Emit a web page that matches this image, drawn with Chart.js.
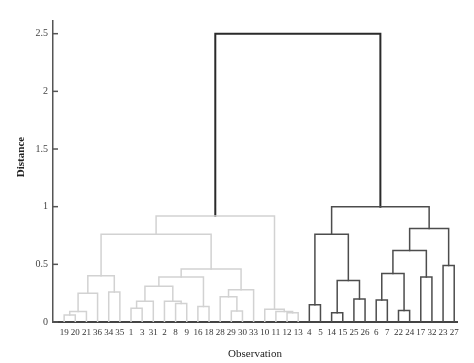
<!DOCTYPE html>
<html><head><meta charset="utf-8">
<script src="https://cdn.jsdelivr.net/npm/chart.js@4.4.1/dist/chart.umd.min.js"></script>
<style>html,body{margin:0;padding:0;background:#fff;}</style>
</head><body>
<canvas id="c" width="474" height="363"></canvas>
<script>
// Leaf order along the x axis (observation labels)
const leafLabels = ['19','20','21','36','34','35','1','3','31','2','8','9','16','18','28','29','30','33','10','11','12','13','4','5','14','15','25','26','6','7','22','24','17','32','23','27'];
// Merges: left child, right child (leaf label or 'mK' = merge K), distance
const mergeLeft  = ['19','m0','m1','34','m2','1','m5','8','2','m6','16','m9','29','28','m13','m11','m4','12','11','10','m16','4','14','25','m22','m21','6','22','m26','17','m28','23','m30','m25','m20'];
const mergeRight = ['20','21','36','35','m3','3','31','9','m7','m8','18','m10','30','m12','33','m14','m15','13','m17','m18','m19','5','15','26','m23','m24','7','24','m27','32','m29','27','m31','m32','m33'];
const mergeHeight = [0.06,0.09,0.25,0.26,0.40,0.12,0.18,0.16,0.18,0.31,0.135,0.39,0.095,0.22,0.28,0.46,0.76,0.08,0.09,0.11,0.92,0.15,0.08,0.20,0.36,0.76,0.19,0.10,0.42,0.39,0.62,0.49,0.81,1.00,2.50];
const mergeCluster = ['A','A','A','A','A','A','A','A','A','A','A','A','A','A','A','A','A','A','A','A','A','B','B','B','B','B','B','B','B','B','B','B','B','B','T'];
const yTicks = [0,0.5,1,1.5,2,2.5];
const xTitle = 'Observation';
const yTitle = 'Distance';

const clusterColor = {A:'#d2d2d2', B:'#4d4d4d', T:'#2a2a2a'};
const clusterWidth = {A:1.5, B:1.5, T:2};

const nodes = {};
leafLabels.forEach((l,i)=>{ nodes[l] = {x:i, y:0}; });
const datasets = [];
mergeHeight.forEach((h,k)=>{
  const a = nodes[mergeLeft[k]], b = nodes[mergeRight[k]];
  nodes['m'+k] = {x:(a.x+b.x)/2, y:h};
  const g = mergeCluster[k];
  datasets.push({
    data:[{x:a.x,y:a.y},{x:a.x,y:h},{x:b.x,y:h},{x:b.x,y:b.y}],
    borderColor: clusterColor[g], borderWidth: clusterWidth[g],
    pointRadius:0, tension:0, fill:false, borderCapStyle:'square'
  });
});

const serif = 'Liberation Serif';
const extras = {
  id:'extras',
  afterDraw(chart){
    const ctx = chart.ctx, y = chart.scales.y, ca = chart.chartArea;
    ctx.save();
    ctx.strokeStyle = '#555'; ctx.lineWidth = 1.5;
    yTicks.forEach(v=>{
      const py = y.getPixelForValue(v);
      ctx.beginPath(); ctx.moveTo(ca.left, py); ctx.lineTo(ca.left+5, py); ctx.stroke();
    });
    ctx.translate(21, 157);
    ctx.rotate(-Math.PI/2);
    ctx.font = 'bold 11px "'+serif+'"';
    ctx.fillStyle = '#222';
    ctx.textAlign = 'center'; ctx.textBaseline = 'middle';
    ctx.fillText(yTitle, 0, 0);
    ctx.restore();
  }
};

new Chart(document.getElementById('c'), {
  type:'line',
  data:{datasets},
  plugins:[extras],
  options:{
    responsive:false, animation:false,
    layout:{padding:{top:21, right:17, left:0, bottom:0}},
    plugins:{legend:{display:false}, tooltip:{enabled:false}},
    scales:{
      x:{
        type:'linear', min:-1, max:35.25,
        afterBuildTicks:s=>{ s.ticks = leafLabels.map((_,i)=>({value:i})); },
        afterFit:s=>{ s.height = 41; },
        ticks:{callback:v=>leafLabels[v], autoSkip:false, maxRotation:0, minRotation:0,
               font:{family:serif, size:9}, color:'#333', padding:5},
        grid:{display:false, drawTicks:false},
        border:{display:true, color:'#444', width:2},
        title:{display:true, text:xTitle, font:{family:serif, size:11}, color:'#222', padding:{top:0, bottom:2}}
      },
      y:{
        type:'linear', min:0, max:2.61,
        afterBuildTicks:s=>{ s.ticks = yTicks.map(v=>({value:v})); },
        afterFit:s=>{ s.width = 53; },
        ticks:{callback:v=>String(v), font:{family:serif, size:10}, color:'#444', padding:5},
        grid:{display:false, drawTicks:false},
        border:{display:true, color:'#555', width:1.5}
      }
    }
  }
});
</script>
</body></html>
